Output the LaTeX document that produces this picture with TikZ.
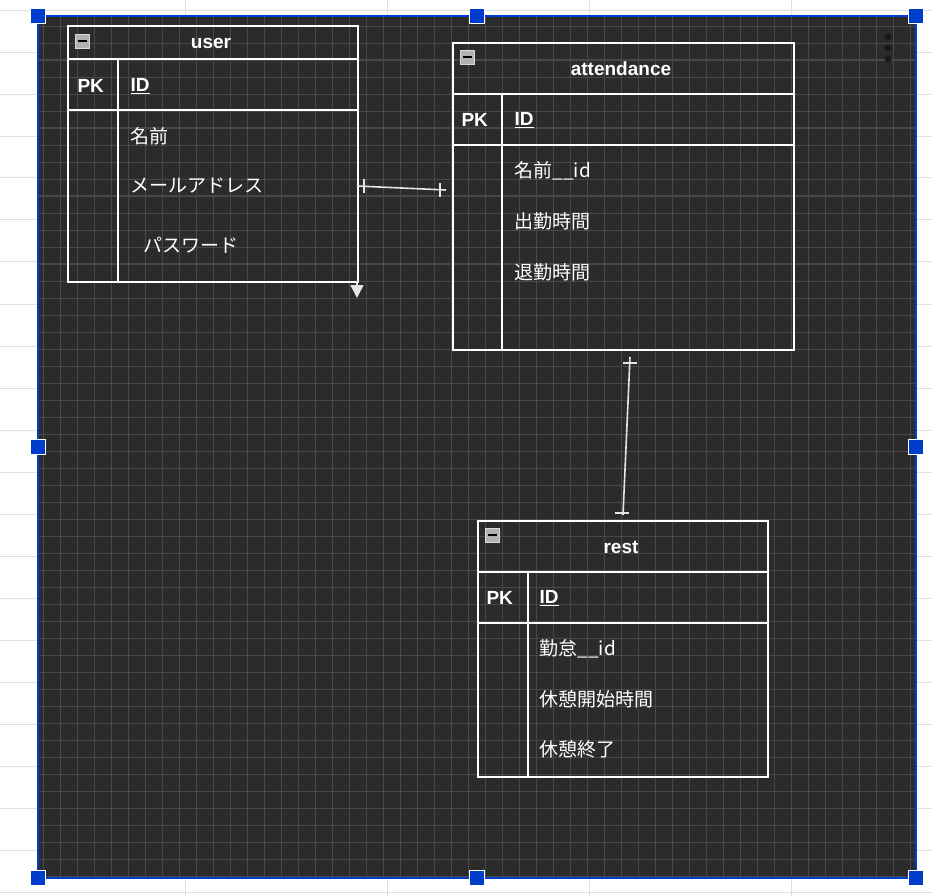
\documentclass[tikz,border=0pt]{standalone}
\usepackage{fontspec}
\setmainfont{Liberation Sans}
\newfontfamily\cjk{Noto Sans CJK JP}
\usetikzlibrary{arrows.meta}
\begin{document}
\begin{tikzpicture}[x=1pt,y=-1pt,
  tbl/.style={draw=white,line width=1.8pt},
  hdr/.style={text=white,font=\bfseries\fontsize{19}{22}\selectfont},
  pk/.style={text=white,font=\bfseries\fontsize{19}{22}\selectfont,anchor=west},
  fld/.style={text=white,font=\cjk\fontsize{19}{22}\selectfont,anchor=west},
  handle/.style={fill=blue!70!cyan!80!black,draw=white,line width=0.8pt,minimum size=15pt,inner sep=0pt},
  conn/.style={draw=white!90!black,line width=1.6pt},
  icon/.style={fill=gray!60,draw=gray!30,minimum size=14pt,inner sep=0pt,
     path picture={\draw[black,line width=2pt] ([xshift=2.5pt]path picture bounding box.west) -- ([xshift=-2.5pt]path picture bounding box.east);}}]
\useasboundingbox (0,0) rectangle (932,896);
\fill[white] (0,0) rectangle (932,896);
% spreadsheet lines
\foreach \y in {11,53,95,137,178,220,262,304,346,388,430,472,514,556,598,640,682,724,766,808,850,892}
  \draw[gray!25,line width=1pt] (0,\y) -- (932,\y);
\foreach \x in {185,387,589,791}
  \draw[gray!25,line width=1pt] (\x,0) -- (\x,896);
% canvas
\fill[black!83] (38,16) rectangle (916,878);
\begin{scope}
\clip (38,16) rectangle (916,878);
\foreach \k in {0,...,55} {
  \draw[white!14!black!83,line width=0.8pt] ({26+17*\k},16) -- ({26+17*\k},878);
  \draw[white!14!black!83,line width=0.8pt] (38,{9+17*\k}) -- (916,{9+17*\k});
}
\foreach \k in {1,...,13} {
  \draw[gray!55!black,line width=1pt] ({26+68*\k},16) -- ({26+68*\k},878);
  \draw[gray!55!black,line width=1pt] (38,{-8+68*\k}) -- (916,{-8+68*\k});
}
\end{scope}
\draw[blue!70!cyan!80!black,line width=1.5pt] (38,16) rectangle (916,878);
\node[handle] (h1) at (38,16) {};
\node[handle] (h2) at (477,16) {};
\node[handle] (h3) at (916,16) {};
\node[handle] (h4) at (38,447) {};
\node[handle] (h5) at (916,447) {};
\node[handle] (h6) at (38,878) {};
\node[handle] (h7) at (477,878) {};
\node[handle] (h8) at (916,878) {};
\foreach \y/\n in {37/d1,48/d2,59/d3} \fill[black!90] (888,\y) circle (3.5pt);
% user
\node[draw=white,line width=1.8pt,minimum width=290pt,minimum height=256pt,anchor=north west,inner sep=0pt] (user) at (67,25) {};
\draw[tbl] (67,59) -- (357,59) (67,110) -- (357,110) (118,59) -- (118,281);
\node[hdr] (ut) at (211,43) {user};
\node[icon] (ui) at (82,41) {};
\node[pk] (upk) at (74,86) {PK};
\node[pk] (uid) at (127,86) {\underline{ID}};
\node[fld] (u1) at (127,136) {名前};
\node[fld] (u2) at (127,186) {メールアドレス};
\node[fld] (u3) at (140,245) {パスワード};
% attendance
\node[draw=white,line width=1.8pt,minimum width=341pt,minimum height=307pt,anchor=north west,inner sep=0pt] (att) at (452,42) {};
\draw[tbl] (452,94) -- (793,94) (452,145) -- (793,145) (502,94) -- (502,349);
\node[hdr] (at) at (621,69) {attendance};
\node[icon] (ai) at (467,57) {};
\node[pk] (apk) at (458,120) {PK};
\node[pk] (aid) at (511,120) {\underline{ID}};
\node[fld] (a1) at (511,171) {名前\_\_id};
\node[fld] (a2) at (511,221) {出勤時間};
\node[fld] (a3) at (511,272) {退勤時間};
% rest
\node[draw=white,line width=1.8pt,minimum width=290pt,minimum height=256pt,anchor=north west,inner sep=0pt] (rest) at (477,520) {};
\draw[tbl] (477,572) -- (767,572) (477,623) -- (767,623) (528,572) -- (528,776);
\node[hdr] (rt) at (621,547) {rest};
\node[icon] (ri) at (492,535) {};
\node[pk] (rpk) at (483,598) {PK};
\node[pk] (rid) at (536,598) {\underline{ID}};
\node[fld] (r1) at (536,649) {勤怠\_\_id};
\node[fld] (r2) at (536,699) {休憩開始時間};
\node[fld] (r3) at (536,749) {休憩終了};
% connectors
\coordinate (c1) at (357,186);
\coordinate (c2) at (446,190);
\draw[conn] (c1) -- (c2);
\draw[conn] (364,179) -- (364,193) (440,183) -- (440,197);
\coordinate (c3) at (630,357);
\coordinate (c4) at (623,515);
\draw[conn] (c3) -- (c4);
\draw[conn] (623,363) -- (637,363) (615,513) -- (629,513);
\coordinate (a0) at (357,281);
\coordinate (a9) at (357,298);
\draw[conn,-{Triangle[width=13pt,length=13pt]}] (a0) -- (a9);
\end{tikzpicture}
\end{document}
